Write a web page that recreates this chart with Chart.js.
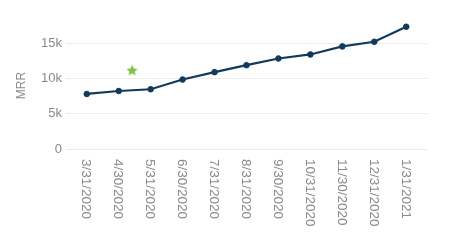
<!DOCTYPE html>
<html>
<head>
    <title>MRR</title>
    <script src="https://cdn.jsdelivr.net/npm/chart.js"></script>
    <style>
        body { margin: 0; background: #fff; }
        #wrap { width: 454px; height: 252px; }
    </style>
</head>
<body>
    <div id="wrap"><canvas id="grafica" width="454" height="252"></canvas></div>

    <script>
        // datos
        const meses = ['3/31/2020', '4/30/2020', '5/31/2020', '6/30/2020', '7/31/2020', '8/31/2020',
            '9/30/2020', '10/31/2020', '11/30/2020', '12/31/2020', '1/31/2021'];
        const mrr = [7800, 8220, 8470, 9850, 10890, 11880, 12830, 13400, 14540, 15200, 17330];
        // estrella: posicion entre abril y mayo
        const estrellaPos = [1.42];
        const estrellaValor = [11100];
        const ticksY = [0, 5000, 10000, 15000];

        const gris = '#8a8a8a';
        const fuente = 'Liberation Sans, Arial, Helvetica, sans-serif';

        // estrella rellena para el punto
        function hacerEstrella(r, color) {
            const c = document.createElement('canvas');
            c.width = c.height = r * 2 + 2;
            const g = c.getContext('2d');
            g.translate(r + 1, r + 1);
            g.beginPath();
            for (let i = 0; i < 10; i++) {
                const rad = i % 2 === 0 ? r : r * 0.45;
                const a = -Math.PI / 2 + i * Math.PI / 5;
                g.lineTo(Math.cos(a) * rad, Math.sin(a) * rad);
            }
            g.closePath();
            g.fillStyle = color;
            g.fill();
            return c;
        }

        // etiquetas del eje x giradas hacia abajo
        const etiquetasX = {
            id: 'etiquetasX',
            afterDraw(chart) {
                const ctx = chart.ctx;
                const x = chart.scales.x;
                ctx.save();
                ctx.font = '13.5px ' + fuente;
                ctx.fillStyle = gris;
                ctx.textAlign = 'left';
                ctx.textBaseline = 'middle';
                meses.forEach((m, i) => {
                    ctx.save();
                    ctx.translate(x.getPixelForValue(i) - 1, chart.chartArea.bottom + 10);
                    ctx.rotate(Math.PI / 2);
                    ctx.fillText(m, 0, 0);
                    ctx.restore();
                });
                ctx.restore();
            }
        };

        const ctx = document.getElementById('grafica').getContext('2d');
        const chart = new Chart(ctx, {
            type: 'line',
            data: {
                datasets: [{
                    label: 'MRR',
                    data: mrr.map((v, i) => ({ x: i, y: v })),
                    borderColor: '#113a5c',
                    backgroundColor: '#113a5c',
                    borderWidth: 2.2,
                    pointRadius: 2.8,
                    pointBorderWidth: 1,
                    pointHoverRadius: 2.8,
                    tension: 0
                }, {
                    label: 'Meta',
                    data: estrellaPos.map((p, i) => ({ x: p, y: estrellaValor[i] })),
                    showLine: false,
                    pointStyle: hacerEstrella(6, '#7dc443'),
                    pointRadius: 6
                }]
            },
            options: {
                responsive: false,
                animation: false,
                layout: { padding: { top: 22, right: 27, bottom: 95, left: 0 } },
                plugins: {
                    legend: { display: false },
                    tooltip: { enabled: false }
                },
                scales: {
                    x: {
                        type: 'linear',
                        min: -0.65,
                        max: 10.65,
                        grid: { display: false },
                        border: { display: false },
                        ticks: { display: false }
                    },
                    y: {
                        min: 0,
                        max: 18000,
                        afterBuildTicks: axis => {
                            axis.ticks = ticksY.map(v => ({ value: v }));
                        },
                        afterFit: axis => { axis.width = 66; },
                        grid: { color: '#ececec', drawTicks: false, lineWidth: 1 },
                        border: { display: false },
                        ticks: {
                            color: gris,
                            padding: 4,
                            font: { size: 13, family: fuente },
                            callback: v => v === 0 ? '0' : (v / 1000) + 'k'
                        },
                        title: {
                            display: true,
                            text: 'MRR',
                            color: gris,
                            font: { size: 12, family: fuente },
                            padding: { top: 14, bottom: 0 }
                        }
                    }
                }
            },
            plugins: [etiquetasX]
        });
    </script>
</body>
</html>
